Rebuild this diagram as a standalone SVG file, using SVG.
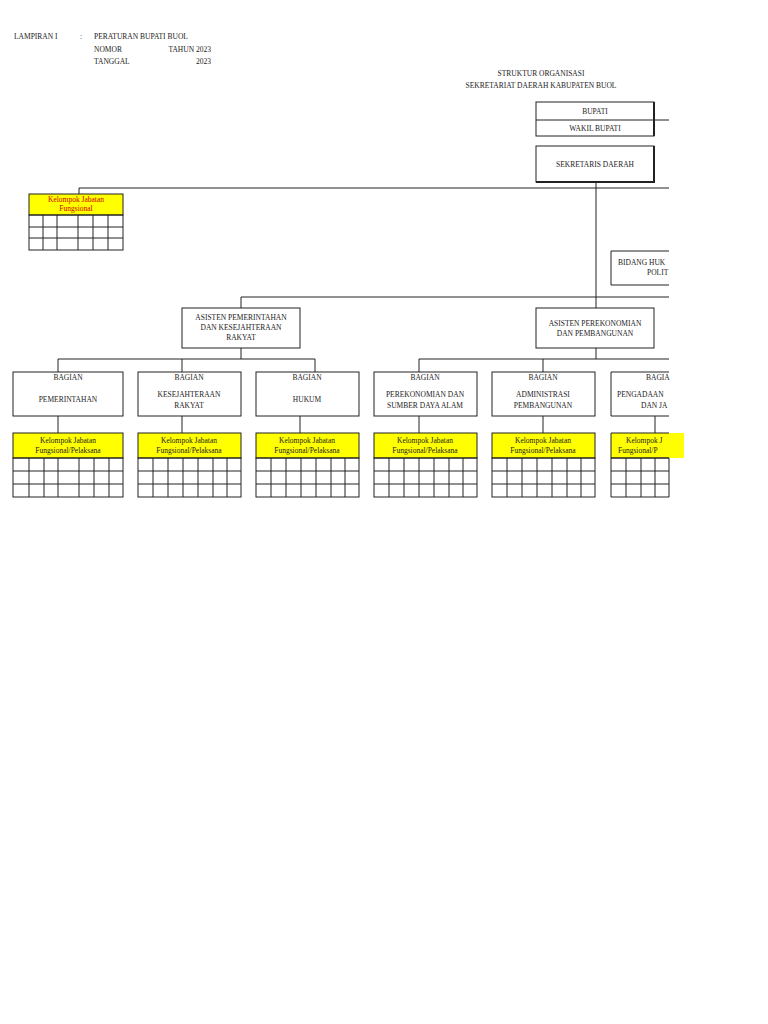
<svg xmlns="http://www.w3.org/2000/svg" width="768" height="1024" viewBox="0 0 768 1024">
<style>
text{font-family:"Liberation Serif","DejaVu Serif",serif;font-size:7.5px;fill:#222}
.c{text-anchor:middle}
.r{fill:#c00;font-size:7.5px}
.box{fill:#fff;stroke:#222;stroke-width:1}
.y{fill:#ffff00;stroke:#222;stroke-width:1}
.g{fill:none;stroke:#222;stroke-width:1}
.ln{fill:none;stroke:#222;stroke-width:1}
</style>
<rect width="768" height="1024" fill="#fff"/>
<g id="header">
<text x="14" y="39">LAMPIRAN I</text><text x="80" y="39">:</text>
<text x="94" y="39">PERATURAN BUPATI BUOL</text>
<text x="94" y="52">NOMOR</text><text x="211" y="52" text-anchor="end">TAHUN 2023</text>
<text x="94" y="64">TANGGAL</text><text x="211" y="64" text-anchor="end">2023</text>
<text class="c" x="541" y="76">STRUKTUR ORGANISASI</text>
<text class="c" x="541" y="88">SEKRETARIAT DAERAH KABUPATEN BUOL</text>
</g>
<g id="connectors">
<path class="ln" d="M654 120H669 M596 182V308 M79 194V188H669 M241 308V297H669 M241 348V359 M58 372V359H315V372 M182 359V372 M596 348V359 M419 372V359H669 M543 359V372 M58 416V433 M182 416V433 M300 416V433 M419 416V433 M543 416V433 M655 416V433"/>
</g>
<g id="bupati">
<rect class="box" x="536" y="102" width="118" height="34"/>
<line class="ln" x1="536" y1="120" x2="654" y2="120"/>
<line x1="654" y1="102" x2="654" y2="136" stroke="#222" stroke-width="2"/>
<text class="c" x="595" y="114">BUPATI</text>
<text class="c" x="595" y="131">WAKIL BUPATI</text>
</g>
<g id="sekda">
<rect class="box" x="536" y="146" width="118" height="36"/>
<path d="M654 146V182H536" fill="none" stroke="#222" stroke-width="2"/>
<text class="c" x="595" y="167">SEKRETARIS DAERAH</text>
</g>
<g id="kjf-sekda">
<rect class="y" x="29" y="194" width="94" height="21"/>
<text class="c r" x="76" y="202">Kelompok Jabatan</text>
<text class="c r" x="76" y="211">Fungsional</text>
<rect class="g" x="29" y="215" width="94" height="35"/>
<path class="g" d="M29 227H123M29 238H123M43 215V250M57 215V250M78 215V250M93 215V250M108 215V250"/>
</g>
<g id="bidang-hukum">
<path class="box" d="M669 251H611V285H669"/>
<text x="618" y="265">BIDANG HUK</text>
<text x="647" y="275">POLIT</text>
</g>
<g id="asisten-pem">
<rect class="box" x="182" y="308" width="118" height="40"/>
<text class="c" x="241" y="320">ASISTEN PEMERINTAHAN</text>
<text class="c" x="241" y="330">DAN KESEJAHTERAAN</text>
<text class="c" x="241" y="340">RAKYAT</text>
</g>
<g id="asisten-ek">
<rect class="box" x="536" y="308" width="118" height="40"/>
<text class="c" x="595" y="326">ASISTEN PEREKONOMIAN</text>
<text class="c" x="595" y="336">DAN PEMBANGUNAN</text>
</g>
<g id="bagian-pem">
<rect class="box" x="13" y="372" width="110" height="44"/>
<text class="c" x="68" y="380">BAGIAN</text><text class="c" x="68" y="402">PEMERINTAHAN</text>
</g>
<g id="bagian-kesra">
<rect class="box" x="138" y="372" width="103" height="44"/>
<text class="c" x="189" y="380">BAGIAN</text><text class="c" x="189" y="397">KESEJAHTERAAN</text><text class="c" x="189" y="408">RAKYAT</text>
</g>
<g id="bagian-hukum">
<rect class="box" x="256" y="372" width="103" height="44"/>
<text class="c" x="307" y="380">BAGIAN</text><text class="c" x="307" y="402">HUKUM</text>
</g>
<g id="bagian-ekon">
<rect class="box" x="374" y="372" width="103" height="44"/>
<text class="c" x="425" y="380">BAGIAN</text><text class="c" x="425" y="397">PEREKONOMIAN DAN</text><text class="c" x="425" y="408">SUMBER DAYA ALAM</text>
</g>
<g id="bagian-adpem">
<rect class="box" x="492" y="372" width="103" height="44"/>
<text class="c" x="543" y="380">BAGIAN</text><text class="c" x="543" y="397">ADMINISTRASI</text><text class="c" x="543" y="408">PEMBANGUNAN</text>
</g>
<g id="bagian-pbj">
<path class="box" d="M669 372H611V416H669"/>
<text x="646" y="380">BAGIA</text><text x="617" y="397">PENGADAAN</text><text x="641" y="408">DAN JA</text>
</g>
<g id="kjf-1">
<rect class="y" x="13" y="433" width="110" height="25"/>
<text class="c" x="68" y="443">Kelompok Jabatan</text><text class="c" x="68" y="453">Fungsional/Pelaksana</text>
<rect class="g" x="13" y="458" width="110" height="39"/>
<path class="g" d="M13 471H123M13 484H123M29 458V497M44 458V497M58 458V497M79 458V497M94 458V497M109 458V497"/>
</g>
<g id="kjf-2">
<rect class="y" x="138" y="433" width="103" height="25"/>
<text class="c" x="189" y="443">Kelompok Jabatan</text><text class="c" x="189" y="453">Fungsional/Pelaksana</text>
<rect class="g" x="138" y="458" width="103" height="39"/>
<path class="g" d="M138 471H241M138 484H241M153 458V497M168 458V497M183 458V497M198 458V497M213 458V497M227 458V497"/>
</g>
<g id="kjf-3">
<rect class="y" x="256" y="433" width="103" height="25"/>
<text class="c" x="307" y="443">Kelompok Jabatan</text><text class="c" x="307" y="453">Fungsional/Pelaksana</text>
<rect class="g" x="256" y="458" width="103" height="39"/>
<path class="g" d="M256 471H359M256 484H359M271 458V497M286 458V497M301 458V497M316 458V497M331 458V497M345 458V497"/>
</g>
<g id="kjf-4">
<rect class="y" x="374" y="433" width="103" height="25"/>
<text class="c" x="425" y="443">Kelompok Jabatan</text><text class="c" x="425" y="453">Fungsional/Pelaksana</text>
<rect class="g" x="374" y="458" width="103" height="39"/>
<path class="g" d="M374 471H477M374 484H477M389 458V497M404 458V497M419 458V497M434 458V497M449 458V497M463 458V497"/>
</g>
<g id="kjf-5">
<rect class="y" x="492" y="433" width="103" height="25"/>
<text class="c" x="543" y="443">Kelompok Jabatan</text><text class="c" x="543" y="453">Fungsional/Pelaksana</text>
<rect class="g" x="492" y="458" width="103" height="39"/>
<path class="g" d="M492 471H595M492 484H595M507 458V497M522 458V497M537 458V497M552 458V497M567 458V497M581 458V497"/>
</g>
<g id="kjf-6">
<rect x="611" y="433" width="73" height="25" fill="#ffff00"/>
<path class="g" d="M669 433H611V458H669"/>
<text x="626" y="443">Kelompok J</text><text x="618" y="453">Fungsional/P</text>
<path class="g" d="M669 458H611V497H669M611 471H669M611 484H669M626 458V497M641 458V497M655 458V497M669 458V497"/>
</g>
</svg>
